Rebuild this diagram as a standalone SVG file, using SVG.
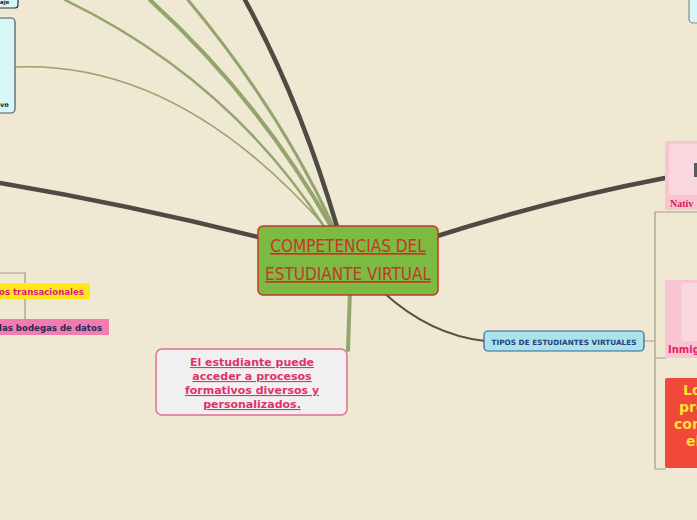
<svg xmlns="http://www.w3.org/2000/svg" width="697" height="520" viewBox="0 0 697 520">
<style>
.dk{fill:none;stroke:#4e4a44;stroke-width:4.5;stroke-linecap:round}
.gr{fill:none;stroke:#93a46e;stroke-linecap:round}
.br{fill:none;stroke:#a39c8a;stroke-width:1.2}
.t{font-family:"DejaVu Sans",Verdana,sans-serif;font-weight:bold}
</style>
<rect width="697" height="520" fill="#efe8d2"/>
<g id="connectors">
<path class="dk" d="M0 183 Q130 205 262 238"/>
<path class="dk" d="M245 0 Q300 100 338 230"/>
<path class="gr" stroke-width="2.5" d="M65 0 Q230 80 325 228"/>
<path class="gr" stroke-width="4" d="M150 0 Q260 100 332 228"/>
<path class="gr" stroke-width="3" d="M188 0 Q280 110 334 228"/>
<path class="gr" stroke-width="1.6" d="M15 67 Q180 60 328 230"/>
<path class="gr" stroke-width="4" d="M350 290 L348 350"/>
<path class="dk" d="M434 237 Q550 200 665 178"/>
<path fill="none" stroke="#55514a" stroke-width="2" d="M383 292 Q430 335 485 341"/>
<path class="br" d="M644 341 H655 M655 212 V469 M655 212 H697 M655 358 H666 M655 469 H666"/>
<path class="br" d="M0 273 H25 V320"/>
</g>
<g id="central">
<rect x="258" y="226" width="180" height="69" rx="5" fill="#7dba42" stroke="#c0392b" stroke-width="1.5"/>
<text x="348" y="252" text-anchor="middle" font-family="'Liberation Sans Narrow','DejaVu Sans Condensed',sans-serif" font-size="17" fill="#c0392b" text-decoration="underline">COMPETENCIAS DEL</text>
<text x="348" y="280" text-anchor="middle" font-family="'Liberation Sans Narrow','DejaVu Sans Condensed',sans-serif" font-size="17" fill="#c0392b" text-decoration="underline">ESTUDIANTE VIRTUAL</text>
</g>
<g id="tipos">
<rect x="484" y="331" width="160" height="20" rx="4" fill="#a8e4ea" stroke="#3c5c9c" stroke-width="1.2"/>
<text class="t" x="564" y="344.5" text-anchor="middle" font-size="7.3" fill="#2b3f7c">TIPOS DE ESTUDIANTES VIRTUALES</text>
</g>
<g id="statement">
<rect x="156" y="349" width="191" height="66" rx="6" fill="#f0f0f0" stroke="#e0708e" stroke-width="1.5"/>
<g class="t" font-size="11" fill="#e0336a" text-anchor="middle" text-decoration="underline">
<text x="252" y="366">El estudiante puede </text>
<text x="252" y="380">acceder a procesos </text>
<text x="252" y="394">formativos diversos y </text>
<text x="252" y="408">personalizados.</text>
</g>
</g>
<g id="nativos">
<rect x="665" y="141" width="40" height="69" fill="#f8c5d1"/>
<rect x="669" y="144" width="40" height="51" rx="4" fill="#f9d8e0"/>
<rect x="694" y="163" width="4" height="14" fill="#5a5a5a"/>
<text x="670" y="206.5" font-family="'Liberation Serif',serif" font-weight="bold" font-size="10" fill="#d81b60">Nativ</text>
</g>
<g id="inmigrantes">
<rect x="665" y="280" width="40" height="78" fill="#f8c5d1"/>
<rect x="681" y="283" width="30" height="58" rx="4" fill="#f9d8e0"/>
<text class="t" x="668" y="353" font-size="10" fill="#e91e63">Inmig</text>
</g>
<g id="lospro">
<rect x="665" y="378" width="40" height="90" rx="2" fill="#f0483b"/>
<g class="t" font-size="14" fill="#ffe033">
<text x="683" y="395">Lo</text>
<text x="679" y="412">pro</text>
<text x="674" y="429">con</text>
<text x="686" y="446">el</text>
</g>
</g>
<g id="transacionales">
<rect x="-5" y="283" width="95" height="16" fill="#ffe81a"/>
<text class="t" x="-1" y="295" font-size="8.6" fill="#e0197a">os transacionales</text>
</g>
<g id="bodegas">
<rect x="-5" y="319" width="114" height="16" fill="#f07dad"/>
<text class="t" x="-1" y="331" font-size="8.6" fill="#2a2a5a">las bodegas de datos</text>
</g>
<g id="left-node">
<rect x="-10" y="18" width="25" height="95" rx="4" fill="#d7f6f8" stroke="#555" stroke-width="1.2"/>
<text class="t" x="0" y="107" font-size="6.5" fill="#222">vo</text>
</g>
<g id="top-left-node">
<rect x="-10" y="-10" width="28" height="18" rx="3" fill="#d7f6f8" stroke="#333" stroke-width="1.2"/>
<text class="t" x="0" y="4" font-size="5.5" fill="#222">aje</text>
</g>
<g id="top-right-node">
<rect x="689" y="-10" width="20" height="33" rx="4" fill="#d7f6f8" stroke="#888" stroke-width="1.2"/>
</g>
</svg>
